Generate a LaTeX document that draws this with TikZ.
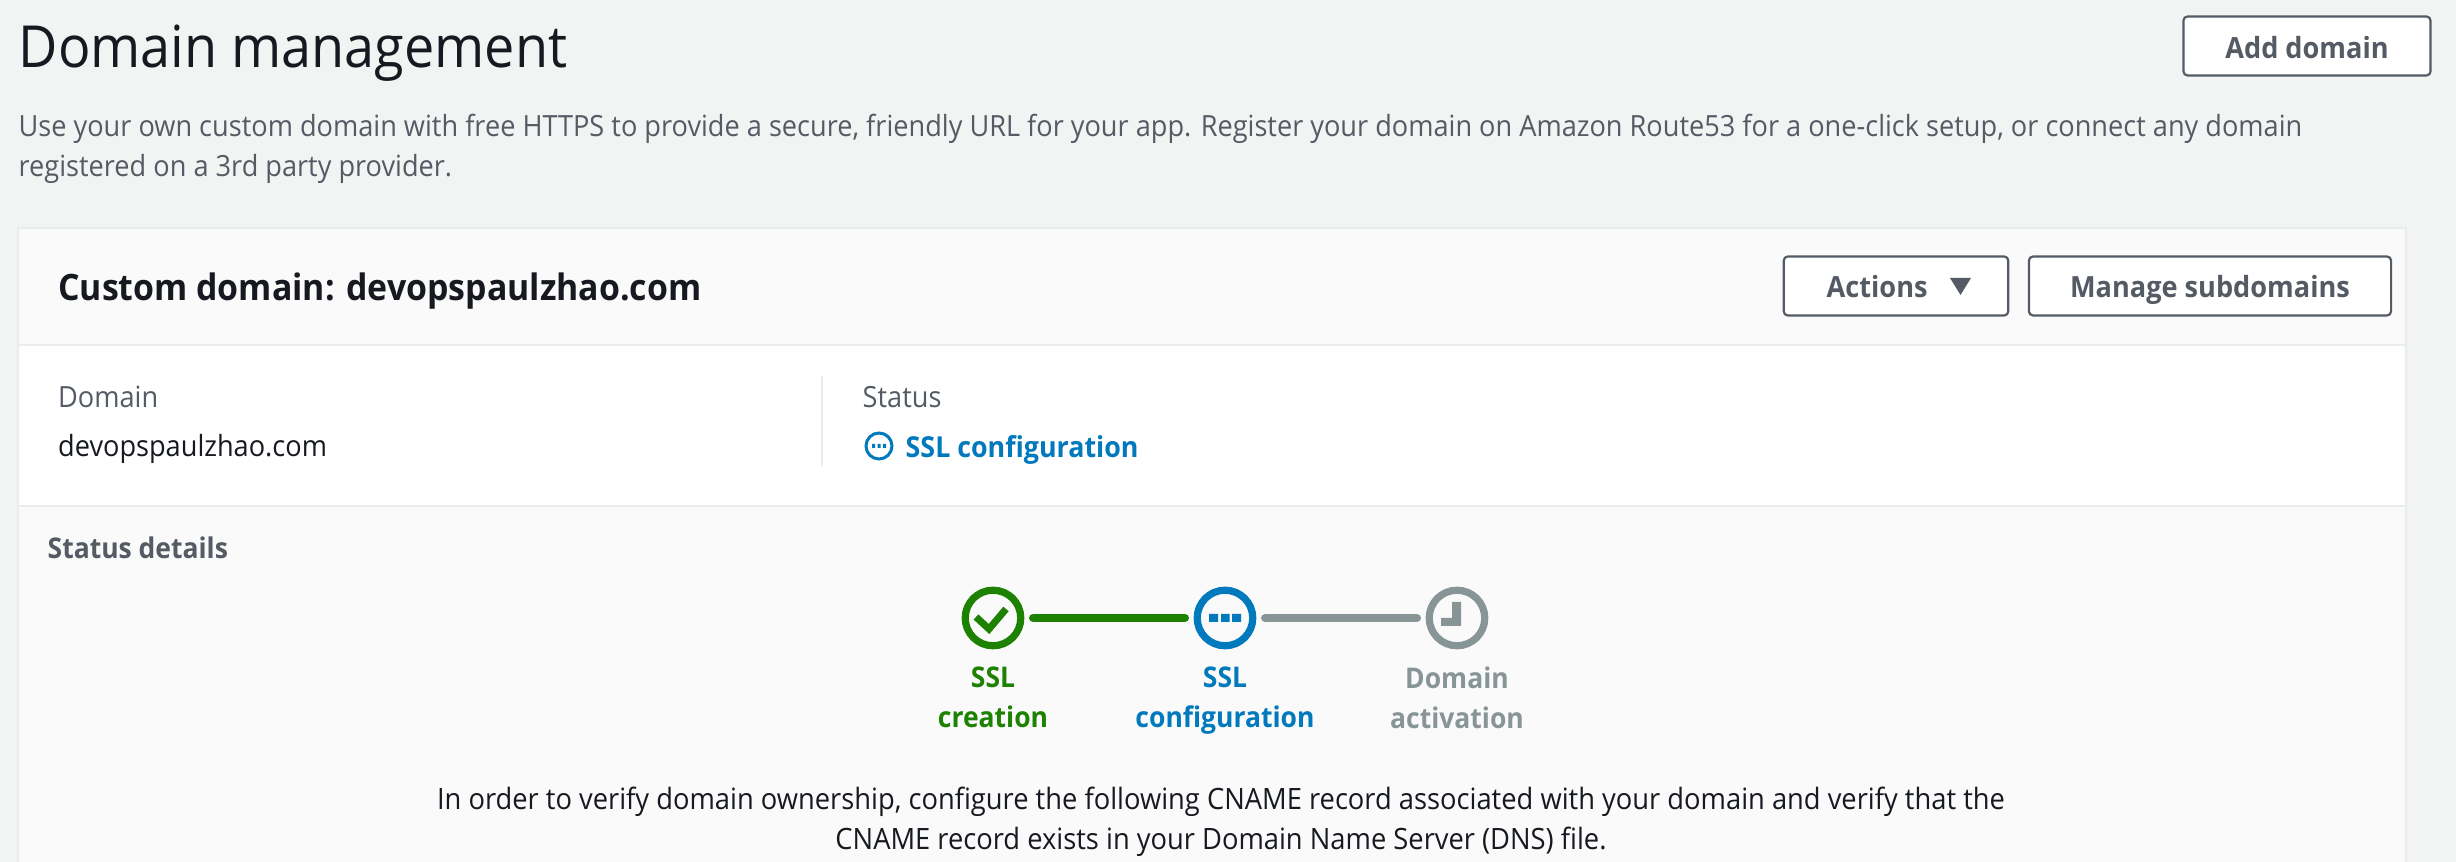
\documentclass[tikz,border=0pt]{standalone}
\usepackage{fontspec}
\setmainfont{Open Sans}[FakeStretch=0.93]
\definecolor{pagegrey}{HTML}{F2F3F3}
\definecolor{cardgrey}{HTML}{FAFAFA}
\definecolor{rulegrey}{HTML}{EAEDED}
\definecolor{inkdark}{HTML}{16191F}
\definecolor{inkgrey}{HTML}{545B64}
\definecolor{stepgreen}{HTML}{1D8102}
\definecolor{stepblue}{HTML}{0079BD}
\definecolor{stepgrey}{HTML}{879596}
\tikzset{
  txt/.style={inner sep=0pt,anchor=base west,font=\fontsize{8.3}{11.4}\selectfont},
  btn/.style={draw=inkgrey,fill=white,line width=2.2*0.2845pt,rounded corners=1.2pt,inner sep=0pt},
  btntxt/.style={inner sep=0pt,anchor=base,text=inkgrey,font=\fontsize{8.3}{11}\selectfont\bfseries},
  stepdot/.style={circle,draw=#1,fill=none,line width=2.05pt,minimum size=0.555cm,inner sep=0pt},
  steptxt/.style={inner sep=0pt,text=#1,align=center,anchor=north,font=\fontsize{8.1}{11.3}\selectfont\bfseries},
  stepline/.style={draw=#1,line width=2.5pt,line cap=round,shorten >=0.09cm,shorten <=0.09cm}
}
\begin{document}
\begin{tikzpicture}[x=0.01cm,y=-0.01cm]
        \useasboundingbox (0,0) rectangle (2456,862);
        % page
        \fill[pagegrey] (0,0) rectangle (2456,862);
        \node[txt,text=inkdark,font=\fontsize{16.5}{18}\selectfont] (title) at (18,68) {Domain management};
        \node[btn,minimum width=2.47cm,minimum height=0.59cm] (addbtn) at (2307,46) {};
        \node[btntxt] (addtxt) at (2307,58.5) {Add domain};
        \node[txt,text=inkgrey,align=left,anchor=north west] (intro) at (18,113) {Use your own custom domain with free HTTPS to provide a secure, friendly URL for your app. Register your domain on Amazon Route53 for a one-click setup, or connect any domain\\registered on a 3rd party provider.};

        % card
        \fill[cardgrey] (18,228) rectangle (2406,862);
        \fill[white] (18,345) rectangle (2406,506);
        \draw[rulegrey,line width=0.8pt] (18,862) -- (18,228) -- (2406,228) -- (2406,862);
        \draw[rulegrey,line width=0.6pt] (18,345) -- (2406,345);
        \draw[rulegrey,line width=0.6pt] (18,506) -- (2406,506);
        \draw[rulegrey,line width=0.5pt] (822,376) -- (822,466);

        % card head
        \node[txt,text=inkdark,font=\fontsize{10.35}{12}\selectfont\bfseries] (cardtitle) at (57.5,300.5) {Custom domain: devopspaulzhao.com};
        \node[btn,minimum width=2.245cm,minimum height=0.59cm] (actbtn) at (1896,286) {};
        \node[btntxt,anchor=base west] (acttxt) at (1826,297.5) {Actions};
        \fill[inkgrey] (1950,278) -- (1971,278) -- (1960.5,295) -- cycle;
        \node[btn,minimum width=3.62cm,minimum height=0.59cm] (subbtn) at (2210,286) {};
        \node[btntxt] (subtxt) at (2210,297.5) {Manage subdomains};

        % domain and status
        \node[txt,text=inkgrey] (domlabel) at (57.5,408) {Domain};
        \node[txt,text=inkdark] (domvalue) at (57.5,457) {devopspaulzhao.com};
        \node[txt,text=inkgrey] (statlabel) at (862,408) {Status};
        \node[circle,draw=stepblue,line width=0.85pt,minimum size=0.26cm,inner sep=0pt] (staticon) at (879,446) {};
        \fill[stepblue] (872,444) rectangle (875,448) (877.5,444) rectangle (880.5,448) (883,444) rectangle (886,448);
        \node[txt,text=stepblue,font=\fontsize{8.2}{11}\selectfont\bfseries] (statvalue) at (905,457.5) {SSL configuration};

        % status details
        \node[txt,text=inkgrey,font=\fontsize{8.1}{11}\selectfont\bfseries] (detlabel) at (47,559) {Status details};
        \node[stepdot=stepgreen] (stepa) at (993,618) {};
        \node[stepdot=stepblue] (stepb) at (1225,618) {};
        \node[stepdot=stepgrey] (stepc) at (1457,618) {};
        \draw[stepline=stepgreen] (stepa) -- (stepb);
        \draw[stepline=stepgrey] (stepb) -- (stepc);

        % marks inside the circles
        \draw[stepgreen,line width=2pt] (976,617) -- (989,629) -- (1006,609);
        \fill[stepblue] (1209,614) rectangle (1218,622) (1221,614) rectangle (1229.5,622) (1232,614) rectangle (1241,622);
        \fill[stepgrey] (1461,602) -- (1461,626) -- (1441,626) -- (1441,618) -- (1452,618) -- (1452,602) -- cycle;

        \node[steptxt=stepgreen] (txta) at (993,666) {SSL\\creation};
        \node[steptxt=stepblue] (txtb) at (1225,666) {SSL\\configuration};
        \node[steptxt=stepgrey] (txtc) at (1457,666) {Domain\\activation};

        % notice
        \node[txt,text=inkdark,align=center,anchor=north,font=\fontsize{8.35}{11.4}\selectfont] (notice) at (1221,786) {In order to verify domain ownership, configure the following CNAME record associated with your domain and verify that the\\CNAME record exists in your Domain Name Server (DNS) file.};
\end{tikzpicture}
\end{document}
